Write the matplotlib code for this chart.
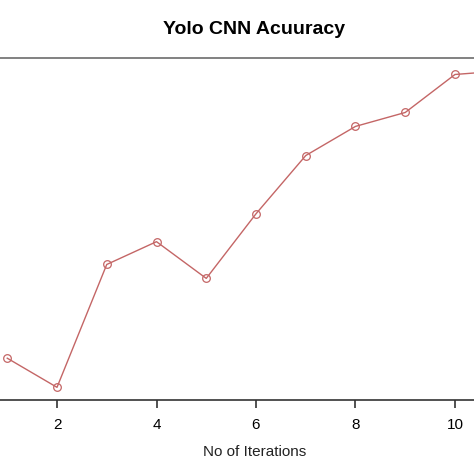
import numpy as np
import matplotlib.pyplot as plt

plt.rcParams['font.family'] = ['Liberation Sans', 'DejaVu Sans']

# iterations vs accuracy (y axis not visible)
iterations = [1, 2, 3, 4, 5, 6, 7, 8, 9, 10, 11]
accuracy = [72.3, 70.0, 79.7, 81.5, 78.6, 83.7, 88.3, 90.6, 91.7, 94.7, 95.0]
xticks = [2, 4, 6, 8, 10]

line_col = "#c46666"

fig = plt.figure(figsize=(4.74, 4.74), dpi=100)
ax = fig.add_axes([0, 1 - 400 / 474, 1, (400 - 58) / 474])

ax.plot(iterations, accuracy, color=line_col, lw=1.0, marker="o",
        markersize=5.5, markerfacecolor="none", markeredgecolor=line_col, markeredgewidth=0.9)

ax.set_xlim(2 - 57 / 49.75, 10 + 19 / 49.75)
rng = max(accuracy) - min(accuracy)
ax.set_ylim(min(accuracy) - 0.04 * rng, max(accuracy) + 0.04 * rng)

ax.spines["left"].set_visible(False)
ax.spines["right"].set_visible(False)
ax.spines["top"].set_color("#777777")
ax.spines["top"].set_linewidth(1.3)
ax.spines["bottom"].set_color("#333333")
ax.spines["bottom"].set_linewidth(1.2)

ax.set_yticks([])
ax.set_xticks(xticks)
ax.tick_params(axis="x", length=6, width=1.2, color="#333333", labelsize=11, pad=7)

ax.set_xlabel("No of Iterations", fontsize=11, color="#222222")
ax.xaxis.set_label_coords(255 / 474, -45 / 342)
fig.text(254 / 474, 1 - 29 / 474, "Yolo CNN Acuuracy", ha="center", va="center",
         fontsize=14, fontweight="bold")

fig.savefig("out.png", dpi=100)
